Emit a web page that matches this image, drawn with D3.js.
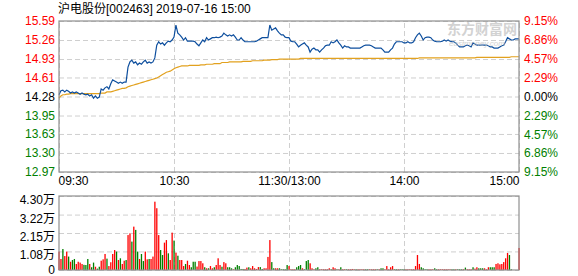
<!DOCTYPE html>
<html>
<head>
<meta charset="utf-8">
<script src="https://cdn.jsdelivr.net/npm/d3@7"></script>
<style>
  body { margin: 0; background: #fff; }
  svg text { font-family: 'Liberation Sans', Arial, 'Noto Sans CJK SC', sans-serif; }
</style>
</head>
<body>
<div id="graf"></div>
<script>
// datos (1 valor por minuto, 09:30 - 15:00)
const titulo = '沪电股份[002463] 2019-07-16 15:00'
const prevClose = 14.28

const precios = [
  14.31,14.38,14.39,14.36,14.39,14.37,14.34,14.36,14.34,14.36,
  14.34,14.32,14.34,14.32,14.31,14.32,14.29,14.31,14.25,14.29,
  14.25,14.27,14.41,14.39,14.43,14.45,14.41,14.50,14.57,14.55,
  14.53,14.51,14.53,14.51,14.53,14.53,14.79,14.88,14.91,14.86,
  14.88,14.83,14.86,14.84,14.88,14.91,14.86,14.88,14.86,14.88,
  14.95,15.17,15.23,15.19,15.21,15.17,15.21,15.24,15.23,15.26,
  15.31,15.52,15.38,15.35,15.31,15.26,15.30,15.24,15.24,15.24,
  15.24,15.23,15.19,15.16,15.21,15.26,15.23,15.30,15.26,15.28,
  15.30,15.30,15.31,15.30,15.31,15.33,15.38,15.35,15.33,15.35,
  15.33,15.35,15.31,15.26,15.26,15.30,15.26,15.23,15.23,15.23,
  15.23,15.23,15.23,15.24,15.26,15.28,15.30,15.30,15.30,15.30,
  15.52,15.43,15.45,15.47,15.42,15.38,15.35,15.35,15.31,15.30,
  15.30,15.24,15.23,15.23,15.19,15.14,15.17,15.19,15.21,15.17,
  15.14,15.05,15.10,15.12,15.09,15.09,15.05,15.09,15.12,15.16,
  15.17,15.17,15.23,15.21,15.23,15.26,15.21,15.17,15.12,15.16,
  15.14,15.14,15.12,15.12,15.12,15.12,15.12,15.12,15.14,15.16,
  15.17,15.17,15.17,15.16,15.14,15.12,15.12,15.12,15.12,15.09,
  15.05,15.05,15.05,15.09,15.12,15.19,15.23,15.23,15.23,15.23,
  15.21,15.21,15.23,15.21,15.21,15.23,15.30,15.35,15.38,15.33,
  15.26,15.30,15.31,15.31,15.30,15.26,15.24,15.23,15.23,15.23,
  15.24,15.26,15.24,15.26,15.24,15.23,15.23,15.21,15.17,15.14,
  15.14,15.14,15.16,15.17,15.16,15.14,15.21,15.19,15.17,15.17,
  15.17,15.17,15.17,15.17,15.16,15.14,15.14,15.12,15.12,15.12,
  15.14,15.16,15.17,15.23,15.30,15.28,15.26,15.26,15.28,15.28,
  15.28
]

const promedio = [
  14.25,14.29,14.31,14.31,14.32,14.32,14.33,14.33,14.33,14.33,
  14.33,14.33,14.33,14.33,14.33,14.33,14.33,14.33,14.33,14.33,
  14.33,14.33,14.34,14.34,14.34,14.36,14.36,14.36,14.37,14.38,
  14.39,14.40,14.41,14.42,14.42,14.43,14.45,14.46,14.47,14.48,
  14.49,14.50,14.51,14.52,14.53,14.54,14.55,14.56,14.57,14.58,
  14.59,14.60,14.62,14.64,14.66,14.68,14.70,14.71,14.72,14.74,
  14.76,14.78,14.79,14.80,14.81,14.81,14.81,14.81,14.82,14.82,
  14.82,14.82,14.82,14.82,14.83,14.83,14.83,14.84,14.84,14.84,
  14.84,14.85,14.85,14.85,14.85,14.87,14.87,14.87,14.87,14.88,
  14.88,14.88,14.88,14.88,14.88,14.88,14.89,14.89,14.89,14.89,
  14.89,14.90,14.90,14.90,14.90,14.90,14.90,14.91,14.91,14.91,
  14.91,14.92,14.92,14.92,14.92,14.93,14.93,14.93,14.93,14.93,
  14.93,14.93,14.93,14.93,14.93,14.93,14.94,14.94,14.94,14.94,
  14.94,14.94,14.94,14.94,14.94,14.94,14.94,14.94,14.94,14.94,
  14.94,14.94,14.94,14.94,14.94,14.94,14.94,14.94,14.94,14.94,
  14.94,14.94,14.94,14.94,14.94,14.94,14.94,14.94,14.94,14.94,
  14.94,14.94,14.94,14.94,14.94,14.94,14.94,14.94,14.94,14.94,
  14.94,14.94,14.94,14.94,14.94,14.94,14.94,14.94,14.94,14.94,
  14.94,14.94,14.94,14.94,14.94,14.94,14.94,14.94,14.95,14.95,
  14.95,14.95,14.95,14.95,14.95,14.95,14.95,14.95,14.95,14.95,
  14.95,14.95,14.95,14.95,14.95,14.95,14.95,14.95,14.95,14.95,
  14.95,14.95,14.95,14.95,14.95,14.95,14.95,14.95,14.96,14.96,
  14.96,14.96,14.96,14.96,14.96,14.96,14.96,14.96,14.96,14.96,
  14.96,14.96,14.96,14.96,14.96,14.96,14.97,14.97,14.97,14.97,
  14.97
]

// volumen en 万
const volumen = [
  1.07,0.64,1.22,0.81,1.07,0.78,0.48,0.58,0.64,0.35,
  0.48,0.43,0.35,0.30,0.29,0.64,0.35,0.16,0.43,0.19,
  0.08,0.19,0.54,0.62,0.93,0.66,0.23,0.45,0.93,1.16,
  1.07,0.58,0.68,0.35,0.54,0.58,2.03,2.13,1.65,2.52,
  2.33,1.07,0.64,0.93,0.52,1.07,0.62,0.64,0.64,0.78,
  3.97,3.59,2.03,1.16,0.87,1.59,1.74,0.97,0.58,2.17,
  1.71,1.01,0.83,0.58,0.58,0.23,0.35,0.54,0.29,0.16,
  0.48,0.48,0.20,0.52,0.52,0.39,0.16,0.10,0.10,0.23,
  0.10,0.16,0.29,0.68,0.29,0.19,0.46,0.39,0.16,0.16,
  0.10,0.04,0.16,0.29,0.23,0.06,0.06,0.06,0.14,0.16,
  0.10,0.23,0.10,0.06,0.17,0.17,0.06,0.10,0.10,0.76,
  1.74,0.46,0.10,0.10,0.10,0.10,0.04,0.04,0.04,0.29,
  0.23,0.04,0.04,0.04,0.16,0.23,0.29,0.10,0.04,0.52,
  0.58,0.39,0.10,0.04,0.10,0.16,0.04,0.04,0.04,0.04,
  0.04,0.10,0.04,0.16,0.10,0.04,0.04,0.16,0.04,0.04,
  0.04,0.04,0.04,0.06,0.04,0.04,0.04,0.04,0.04,0.04,
  0.04,0.04,0.04,0.04,0.04,0.04,0.04,0.04,0.10,0.10,
  0.04,0.23,0.04,0.16,0.23,0.04,0.04,0.04,0.04,0.04,
  0.04,0.04,0.04,0.04,0.04,0.04,0.23,0.87,0.35,0.16,
  0.10,0.04,0.04,0.04,0.04,0.04,0.10,0.04,0.04,0.04,
  0.04,0.04,0.04,0.04,0.04,0.04,0.04,0.04,0.04,0.04,
  0.04,0.04,0.14,0.04,0.04,0.04,0.16,0.08,0.16,0.10,
  0.10,0.10,0.10,0.04,0.16,0.16,0.16,0.16,0.35,0.39,
  0.33,0.35,0.46,0.68,0.99,0.87,0.04,0,0,0,
  1.28
]

// r = sube (rojo), g = baja (verde)
const direccion = (
  'rrgrrgrggr' + 'rrrgggrggr' + 'ggrrrgrrrr' + 'grgrrgrrgr' + 'ggrggrrgrr' +
  'rrrggrrgrr' + 'grgrrrgrrg' + 'ggrrrrgrgr' + 'rgrrrgrrgg' + 'grgggggrrg' +
  'rrrrrggrrr' + 'rggrrggggg' + 'rrrrgggrgg' + 'grrrggrrrr' + 'rrgrrgrgrr' +
  'grrrrgrrrr' + 'ggrrrrgrgg' + 'rrrrrggrgg' + 'grrrrrrrrg' + 'gggrrrggrr' +
  'rrrrrggrgg' + 'grgrrrgrrg' + 'ggrrrgggrr' + 'rrrrrggrrr' + 'r'
).split('')

const ticksPrecio = [15.59, 15.26, 14.93, 14.61, 14.28, 13.95, 13.63, 13.30, 12.97]
const ticksPct = [9.15, 6.86, 4.57, 2.29, 0, -2.29, -4.57, -6.86, -9.15]
const ticksVol = [0, 1.08, 2.15, 3.22, 4.30]
const ticksTiempo = [0, 60, 120, 180, 240]
const etiquetasTiempo = ['09:30', '10:30', '11:30/13:00', '14:00', '15:00']

const svg = d3.select('#graf')
  .append('svg')
  .attr('width', 578)
  .attr('height', 276)

const margin = { top: 21, left: 59 }
const ancho = 460
const altoPrecio = 151
const volTop = 196
const altoVol = 74

const rojo = '#ff0000'
const verde = '#008000'

const x = d3.scaleLinear().domain([0, 240]).range([0, ancho])
const yP = d3.scaleLinear().domain([12.97, 15.59]).range([altoPrecio, 0])
const yPct = d3.scaleLinear().domain([-9.15, 9.15]).range([altoPrecio, 0])
const yV = d3.scaleLinear().domain([0, 4.30]).range([altoVol, 0])

const gP = svg.append('g')
  .attr('transform', `translate(${margin.left}, ${margin.top})`)
const gV = svg.append('g')
  .attr('transform', `translate(${margin.left}, ${volTop})`)

function estiloGrid(g) {
  g.select('.domain').remove()
  g.selectAll('.tick line')
    .attr('stroke', '#cfcfcf')
    .attr('stroke-dasharray', '5,3')
  g.selectAll('.tick text')
    .attr('font-size', 12)
}

// titulo
svg.append('text')
  .attr('x', 58)
  .attr('y', 13)
  .attr('font-size', 12)
  .attr('fill', '#000')
  .text(titulo)

// marca de agua
svg.append('text')
  .attr('x', 447)
  .attr('y', 34)
  .attr('font-size', 14)
  .attr('font-weight', 'bold')
  .attr('fill', '#c4c4c4')
  .attr('opacity', 0.75)
  .text('东方财富网')
svg.append('text')
  .attr('x', 449)
  .attr('y', 46)
  .attr('font-size', 8)
  .attr('font-style', 'italic')
  .attr('fill', '#c4c4c4')
  .attr('opacity', 0.75)
  .text('eastmoney.com')

// eje precio
gP.append('g')
  .call(d3.axisLeft(yP)
    .tickValues(ticksPrecio)
    .tickSize(-ancho)
    .tickPadding(4)
    .tickFormat(d => d.toFixed(2)))
  .call(estiloGrid)
  .selectAll('.tick text')
    .attr('fill', d => d > prevClose ? rojo : (d < prevClose ? verde : '#000'))

// eje porcentaje
gP.append('g')
  .attr('transform', `translate(${ancho}, 0)`)
  .call(d3.axisRight(yPct)
    .tickValues(ticksPct)
    .tickSize(0)
    .tickPadding(5)
    .tickFormat(d => `${Math.abs(d).toFixed(2)}%`))
  .call(estiloGrid)
  .selectAll('.tick text')
    .attr('fill', d => d > 0 ? rojo : (d < 0 ? verde : '#000'))

// eje tiempo
gP.append('g')
  .attr('transform', `translate(0, ${altoPrecio})`)
  .call(d3.axisBottom(x)
    .tickValues(ticksTiempo)
    .tickSize(-altoPrecio)
    .tickPadding(4)
    .tickFormat((d, i) => etiquetasTiempo[i]))
  .call(estiloGrid)
  .selectAll('.tick text')
    .attr('fill', '#000')
    .attr('text-anchor', (d, i) => i === 0 ? 'start' : (i === ticksTiempo.length - 1 ? 'end' : 'middle'))
    .attr('dx', (d, i) => i === 0 ? -1 : 0)

const linea = d3.line()
  .x((d, i) => x(i))
  .y(d => yP(d))

gP.append('path')
  .datum(promedio)
  .attr('d', linea)
  .attr('fill', 'none')
  .attr('stroke', '#e2a11e')
  .attr('stroke-width', 1.2)

gP.append('path')
  .datum(precios)
  .attr('d', linea)
  .attr('fill', 'none')
  .attr('stroke', '#0e4f9e')
  .attr('stroke-width', 1.2)

gP.append('rect')
  .attr('width', ancho)
  .attr('height', altoPrecio)
  .attr('fill', 'none')
  .attr('stroke', '#8f8f8f')
  .attr('stroke-width', 1.2)

// volumen
gV.append('g')
  .attr('transform', `translate(0, ${altoVol})`)
  .call(d3.axisBottom(x)
    .tickValues(ticksTiempo.slice(1, -1))
    .tickSize(-altoVol)
    .tickFormat(''))
  .call(estiloGrid)

gV.append('g')
  .call(d3.axisLeft(yV)
    .tickValues(ticksVol)
    .tickSize(-ancho)
    .tickPadding(4)
    .tickFormat(d => d === 0 ? '0' : `${d.toFixed(2)}万`))
  .call(estiloGrid)
  .selectAll('.tick text')
    .attr('fill', '#000')
    .attr('dy', d => d === 0 ? '0.32em' : '0.62em')

gV.selectAll('rect.barra')
  .data(volumen)
  .join('rect')
    .attr('class', 'barra')
    .attr('x', (d, i) => x(i) - 0.6)
    .attr('width', 1.3)
    .attr('y', d => yV(d))
    .attr('height', d => altoVol - yV(d))
    .attr('fill', (d, i) => direccion[i] === 'r' ? rojo : verde)

gV.append('rect')
  .attr('width', ancho)
  .attr('height', altoVol)
  .attr('fill', 'none')
  .attr('stroke', '#8f8f8f')
  .attr('stroke-width', 1.2)
</script>
</body>
</html>
